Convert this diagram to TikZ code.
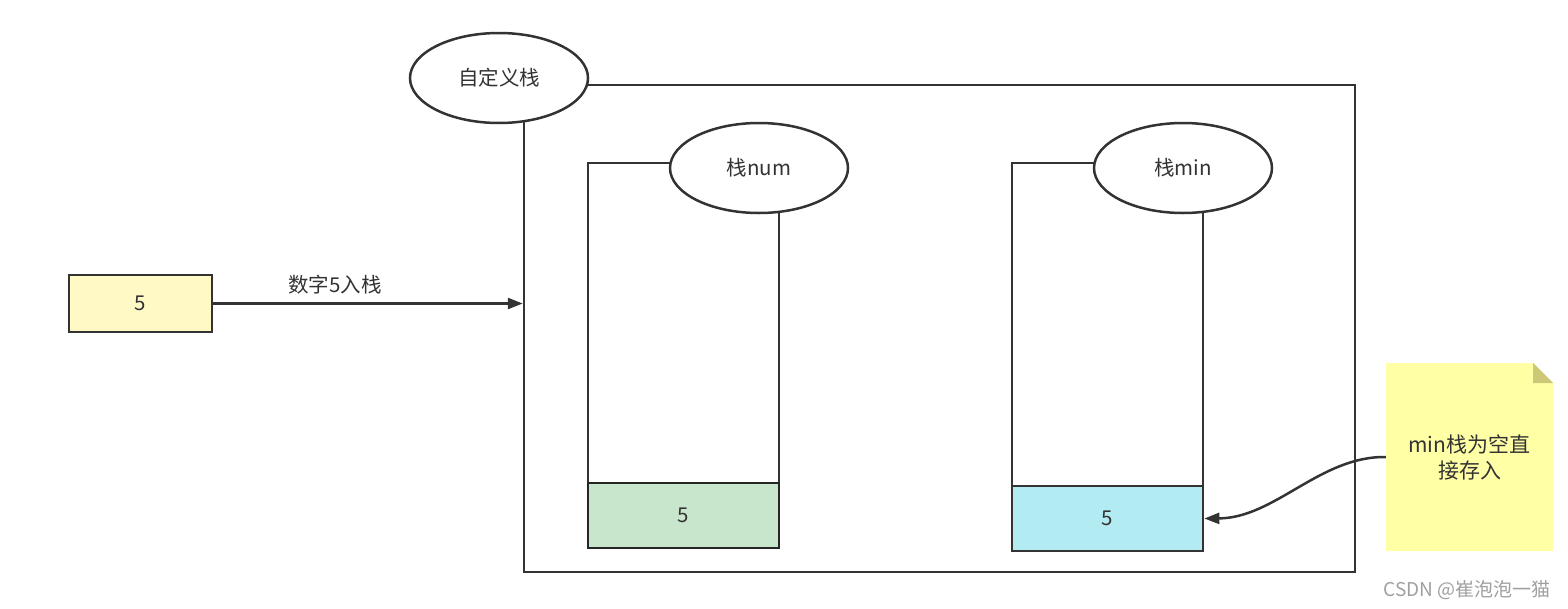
\documentclass[tikz,border=0pt]{standalone}
\usepackage{fontspec}
\setmainfont{Noto Sans CJK SC}
\usetikzlibrary{arrows.meta,shapes.geometric}
\definecolor{lc}{HTML}{333333}
\definecolor{txt}{HTML}{333333}
\definecolor{srcfill}{HTML}{FFF9C6}
\definecolor{numfill}{HTML}{C8E6CB}
\definecolor{minfill}{HTML}{B2EBF2}
\definecolor{notefill}{HTML}{FFFFA6}
\definecolor{foldfill}{HTML}{CCC878}
\definecolor{wm}{HTML}{A0A0A0}
\begin{document}
\begin{tikzpicture}[x=1pt,y=-1pt]
\tikzset{
  ln/.style={draw=lc, line width=2.5pt},
  ell/.style={ellipse, draw=lc, line width=2.5pt, fill=white, minimum width=178pt, minimum height=90pt, inner sep=0pt, text=txt, font=\fontsize{20.5pt}{25pt}\selectfont},
  cell/.style={draw=black!85, line width=2.6pt, minimum width=191pt, minimum height=65pt, inner sep=0pt, text=txt, font=\fontsize{20.5pt}{25pt}\selectfont},
  lbl/.style={text=txt, font=\fontsize{20.5pt}{25pt}\selectfont, inner sep=0pt},
  tip/.style={-{Triangle[length=15pt,width=11pt]}},
}
\useasboundingbox (0,0) rectangle (1568,608);
\fill[white] (0,0) rectangle (1568,608);
% outer frame
\node[ln, rectangle, minimum width=831pt, minimum height=487pt, inner sep=0pt] (frame) at (939.5,328.5) {};
\node[ell] (stack) at (499,78) {自定义栈};
% source
\node[ln, rectangle, fill=srcfill, minimum width=143pt, minimum height=57pt, inner sep=0pt, text=txt, font=\fontsize{20.5pt}{25pt}\selectfont] (src) at (140.5,303.5) {5};
\draw[ln, tip] (src.east) -- (frame.west |- src.east);
\node[lbl] (push) at (335,285) {数字5入栈};
% stack num
\draw[ln] (672,163) -- (588,163) -- (588,548) -- (779,548) -- (779,200);
\node[ell] (num) at (759,168) {栈num};
\node[cell, fill=numfill] (numval) at (683.5,515.5) {5};
% stack min
\draw[ln] (1097,163) -- (1012,163) -- (1012,551) -- (1203,551) -- (1203,200);
\node[ell] (min) at (1183,168) {栈min};
\node[cell, draw=lc, fill=minfill] (minval) at (1107.5,518.5) {5};
% note
\fill[notefill] (1386,363) -- (1533,363) -- (1553,383) -- (1553,551) -- (1386,551) -- cycle;
\fill[foldfill] (1533,363) -- (1553,383) -- (1533,383) -- cycle;
\node[minimum width=167pt, minimum height=188pt, inner sep=0pt, align=center, text=txt, font=\fontsize{21pt}{26pt}\selectfont] (note) at (1469.5,457) {min栈为空直\\接存入};
\draw[ln, tip] (note.west) .. controls (1320,456) and (1275,518) .. (minval.east);
% watermark
\node[text=wm, font=\fontsize{19pt}{21pt}\selectfont, inner sep=0pt] (mark) at (1467,590) {CSDN @崔泡泡一猫};
\end{tikzpicture}
\end{document}
